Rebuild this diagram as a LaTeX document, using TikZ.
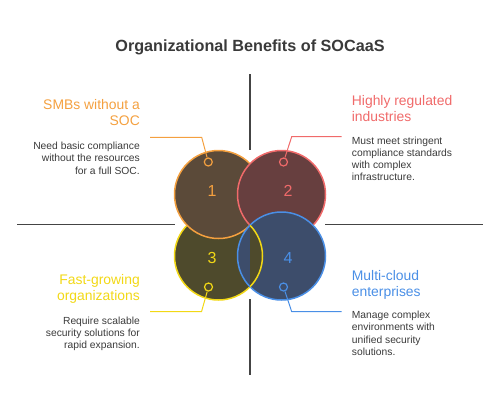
\documentclass[tikz,border=0pt]{standalone}
\usepackage{fontspec}
\setmainfont{Liberation Sans}
\definecolor{orA}{HTML}{F4A03F}
\definecolor{orF}{HTML}{5B4A39}
\definecolor{rdA}{HTML}{F06A6A}
\definecolor{rdF}{HTML}{673F3F}
\definecolor{ylA}{HTML}{F2D815}
\definecolor{ylF}{HTML}{4E4A2C}
\definecolor{blA}{HTML}{4A8FE6}
\definecolor{blF}{HTML}{3D4D6B}
\definecolor{bodygray}{HTML}{3A3A3A}
\definecolor{axisgray}{HTML}{444444}
\begin{document}
\begin{tikzpicture}[x=1pt,y=-1pt,
  bigc/.style={circle, minimum size=88pt, inner sep=0pt, line width=1.5pt},
  dotmark/.style={circle, minimum size=8pt, inner sep=0pt, line width=1.2pt},
  lead/.style={line width=1pt},
  axisline/.style={line width=1.4pt, draw=axisgray},
  num/.style={font=\fontsize{16}{19}\selectfont, inner sep=0pt},
  head/.style={font=\fontsize{13.9}{16}\selectfont, inner sep=0pt},
  body/.style={font=\fontsize{10.3}{12.3}\selectfont, text=bodygray, inner sep=0pt},
  title/.style={font=\fontsize{16.2}{19}\selectfont\bfseries, text=bodygray, inner sep=0pt}
]
\useasboundingbox (0,0) rectangle (500,408);

% title
\node[title, anchor=base] (title) at (250,51.7) {Organizational Benefits of SOCaaS};

% axis lines
\draw[axisline] (250,74) -- (250,150);
\draw[axisline] (250,299) -- (250,375);
\draw[axisline] (17,224.5) -- (175,224.5);
\draw[axisline] (325,224.5) -- (483,224.5);

% circles (cyclic overlap: 3 < 1 < 2 < 4 < 3)
\node[bigc, fill=ylF, draw=ylA] (c3) at (218.5,256) {};
\node[bigc, fill=orF, draw=orA] (c1) at (218.5,194.5) {};
\node[bigc, fill=rdF, draw=rdA] (c2) at (281.5,194.5) {};
\node[bigc, fill=blF, draw=blA] (c4) at (281.5,256) {};
\begin{scope}
  \clip (250,225) rectangle (330,330);
  \filldraw[fill=ylF, draw=ylA, line width=1.5pt] (218.5,256) circle (44);
\end{scope}

% numbers
\node[num, text=orA] (n1) at (212,191) {1};
\node[num, text=rdA] (n2) at (288,191) {2};
\node[num, text=ylA] (n3) at (212,258) {3};
\node[num, text=blA] (n4) at (288,258) {4};

% markers
\node[dotmark, fill=orF, draw=orA] (m1) at (208.3,162) {};
\node[dotmark, fill=rdF, draw=rdA] (m2) at (283.5,162) {};
\node[dotmark, fill=ylF, draw=ylA] (m3) at (208.5,287) {};
\node[dotmark, fill=blF, draw=blA] (m4) at (283.5,287) {};

% leader lines
\coordinate (k1) at (201.7,137.3); \coordinate (e1) at (150,137.3);
\coordinate (k2) at (291.7,136.7); \coordinate (e2) at (341.7,136.7);
\coordinate (k3) at (201.5,311.7); \coordinate (e3) at (150,311.7);
\coordinate (k4) at (291.7,311.7); \coordinate (e4) at (341.7,311.7);
\draw[lead, orA] (m1) -- (k1) -- (e1);
\draw[lead, rdA] (m2) -- (k2) -- (e2);
\draw[lead, ylA] (m3) -- (k3) -- (e3);
\draw[lead, blA] (m4) -- (k4) -- (e4);

% block 1 (top left)
\node[head, text=orA, anchor=base east] (h1a) at (140,109.3) {SMBs without a};
\node[head, text=orA, anchor=base east] (h1b) at (140,125.6) {SOC};
\node[body, anchor=base east] (b1a) at (140,149.5) {Need basic compliance};
\node[body, anchor=base east] (b1b) at (140,161.8) {without the resources};
\node[body, anchor=base east] (b1c) at (140,174.1) {for a full SOC.};

% block 2 (top right)
\node[head, text=rdA, anchor=base west] (h2a) at (351.7,105.5) {Highly regulated};
\node[head, text=rdA, anchor=base west] (h2b) at (351.7,121.6) {industries};
\node[body, anchor=base west] (b2a) at (351.7,144) {Must meet stringent};
\node[body, anchor=base west] (b2b) at (351.7,156.3) {compliance standards};
\node[body, anchor=base west] (b2c) at (351.7,168.6) {with complex};
\node[body, anchor=base west] (b2d) at (351.7,180.9) {infrastructure.};

% block 3 (bottom left)
\node[head, text=ylA, anchor=base east] (h3a) at (140,284) {Fast-growing};
\node[head, text=ylA, anchor=base east] (h3b) at (140,300.1) {organizations};
\node[body, anchor=base east] (b3a) at (140,324) {Require scalable};
\node[body, anchor=base east] (b3b) at (140,336.3) {security solutions for};
\node[body, anchor=base east] (b3c) at (140,348.6) {rapid expansion.};

% block 4 (bottom right)
\node[head, text=blA, anchor=base west] (h4a) at (351.7,280) {Multi-cloud};
\node[head, text=blA, anchor=base west] (h4b) at (351.7,296.1) {enterprises};
\node[body, anchor=base west] (b4a) at (351.7,318.4) {Manage complex};
\node[body, anchor=base west] (b4b) at (351.7,330.7) {environments with};
\node[body, anchor=base west] (b4c) at (351.7,343) {unified security};
\node[body, anchor=base west] (b4d) at (351.7,355.3) {solutions.};
\end{tikzpicture}
\end{document}
